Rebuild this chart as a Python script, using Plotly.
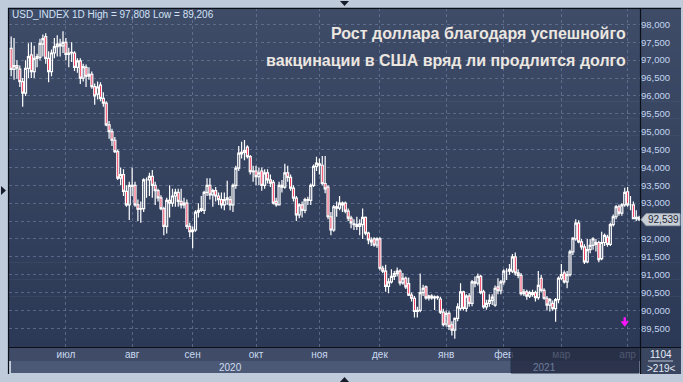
import plotly.graph_objects as go

# ---------------- data: USD_INDEX daily bars ----------------
bar_index = list(range(219))

opens = [
    97.33, 96.74, 96.85, 96.75, 96.40, 96.08, 96.77, 97.15, 96.68, 97.05,
    97.08, 97.45, 97.66, 97.05, 96.68, 97.20, 97.38, 97.45, 97.40, 97.50,
    97.16, 97.20, 97.20, 96.80, 96.98, 96.50, 96.80, 96.55, 96.60, 96.26,
    96.05, 96.30, 95.93, 95.80, 95.19, 95.00, 94.76, 94.44, 93.70, 93.80,
    93.33, 92.95, 93.50, 93.50, 92.95, 92.83, 92.85, 93.65, 93.65, 93.75,
    93.50, 93.35, 93.15, 92.85, 92.35, 93.08, 93.00, 93.20, 93.30, 93.05,
    92.95, 93.00, 92.35, 92.20, 92.25, 92.75, 92.80, 92.80, 93.30, 93.50,
    93.23, 93.35, 93.20, 93.10, 92.95, 93.10, 93.10, 92.95, 93.50, 93.98,
    94.38, 94.42, 94.57, 94.30, 93.88, 93.90, 93.74, 93.90, 93.50, 93.85,
    93.65, 93.58, 93.05, 92.95, 93.50, 93.45, 93.85, 93.72, 93.42, 93.14,
    92.67, 92.95, 92.80, 93.10, 93.08, 93.50, 94.03, 94.10, 94.06, 93.55,
    93.45, 92.62, 92.25, 92.90, 92.86, 93.00, 93.00, 92.78, 92.58, 92.42,
    92.40, 92.35, 92.40, 92.60, 92.16, 91.97, 92.00, 91.83, 92.00, 91.18,
    91.10, 90.67, 90.80, 90.95, 91.03, 91.10, 90.77, 90.90, 90.75, 90.43,
    90.34, 89.97, 90.00, 90.50, 90.66, 90.35, 90.40, 90.35, 90.38, 90.32,
    89.95, 89.62, 89.92, 89.60, 89.45, 89.78, 90.06, 90.52, 90.06, 90.40,
    90.20, 90.80, 90.76, 90.95, 90.52, 90.10, 90.20, 90.28, 90.15, 90.66,
    90.55, 90.80, 91.10, 91.10, 91.10, 91.50, 91.05, 90.98, 90.47, 90.52,
    90.40, 90.50, 90.50, 90.36, 90.90, 90.56, 90.34, 90.15, 90.20, 90.05,
    90.30, 90.90, 91.05, 90.80, 91.00, 91.64, 92.00, 92.44, 91.92, 91.78,
    91.36, 91.70, 91.82, 91.90, 91.90, 91.45, 91.90, 92.05, 91.85, 92.40,
    92.62, 92.90, 92.72, 92.95, 93.32, 92.95, 92.95, 92.57, 92.60,
]

highs = [
    97.66, 97.62, 97.00, 96.85, 96.50, 97.00, 97.47, 97.50, 97.40, 97.18,
    97.60, 97.72, 97.75, 97.25, 97.30, 97.62, 97.70, 97.60, 97.808, 97.62,
    97.35, 97.50, 97.25, 97.05, 97.05, 96.90, 96.88, 96.80, 96.68, 96.35,
    96.40, 96.38, 96.10, 95.85, 95.30, 95.08, 94.85, 94.50, 94.00, 93.95,
    93.50, 93.60, 94.00, 93.60, 93.10, 93.05, 93.70, 93.72, 93.85, 93.93,
    93.60, 93.40, 93.22, 92.90, 93.15, 93.50, 93.40, 93.40, 93.40, 93.40,
    93.15, 93.10, 92.45, 92.35, 92.80, 93.00, 93.20, 93.35, 93.70, 93.70,
    93.40, 93.45, 93.30, 93.30, 93.30, 93.63, 93.20, 93.55, 94.05, 94.60,
    94.72, 94.77, 94.62, 94.35, 94.05, 94.05, 94.00, 94.00, 93.95, 93.95,
    93.80, 93.65, 93.15, 93.60, 93.65, 94.10, 94.05, 93.80, 93.50, 93.20,
    93.00, 93.05, 93.15, 93.18, 93.55, 94.08, 94.30, 94.25, 94.32, 94.32,
    93.50, 92.75, 92.95, 93.05, 93.20, 93.05, 93.05, 92.85, 92.65, 92.55,
    92.62, 92.55, 92.85, 92.63, 92.20, 92.05, 92.05, 92.05, 92.05, 91.25,
    91.28, 90.90, 91.15, 91.10, 91.20, 91.15, 91.05, 90.95, 90.92, 90.50,
    90.40, 90.10, 91.03, 90.72, 90.70, 90.44, 90.45, 90.42, 90.42, 90.38,
    90.05, 90.00, 89.98, 89.70, 89.80, 90.20, 90.76, 90.55, 90.45, 90.48,
    90.85, 90.95, 91.03, 91.00, 90.58, 90.30, 90.45, 90.45, 90.70, 90.90,
    90.85, 91.15, 91.18, 91.30, 91.58, 91.62, 91.15, 91.05, 90.60, 90.58,
    90.55, 90.58, 90.55, 91.10, 91.00, 90.62, 90.40, 90.35, 90.28, 90.35,
    90.95, 91.30, 91.12, 91.10, 91.70, 92.05, 92.55, 92.52, 92.00, 91.85,
    92.00, 92.00, 92.05, 92.00, 91.95, 92.20, 92.15, 92.12, 92.45, 92.68,
    92.95, 92.96, 93.00, 93.43, 93.45, 93.20, 93.05, 92.80, 92.65,
]

lows = [
    96.55, 96.45, 96.48, 96.25, 95.70, 96.00, 96.50, 96.50, 96.50, 96.80,
    97.00, 97.10, 96.90, 96.38, 96.55, 97.05, 97.10, 97.10, 97.20, 97.00,
    96.80, 96.95, 96.70, 96.65, 96.33, 96.40, 96.25, 96.45, 96.20, 95.75,
    95.90, 95.85, 95.70, 95.15, 94.80, 94.60, 94.40, 93.65, 93.50, 93.20,
    92.90, 92.53, 93.20, 92.90, 92.50, 92.45, 92.75, 93.15, 93.20, 93.15,
    92.95, 93.05, 92.80, 92.10, 92.15, 92.60, 92.90, 92.90, 92.90, 92.85,
    92.85, 92.28, 92.05, 91.74, 92.20, 92.60, 92.75, 92.70, 93.20, 93.10,
    92.90, 93.05, 92.95, 92.85, 92.80, 92.95, 92.80, 92.75, 93.40, 93.90,
    94.25, 94.20, 94.25, 93.80, 93.60, 93.50, 93.50, 93.35, 93.40, 93.55,
    93.45, 92.96, 92.90, 92.95, 93.30, 93.40, 93.60, 93.35, 93.05, 92.50,
    92.58, 92.60, 92.72, 92.95, 92.95, 93.45, 93.90, 93.80, 93.50, 93.28,
    92.55, 92.10, 92.20, 92.62, 92.80, 92.75, 92.72, 92.50, 92.30, 92.25,
    92.25, 92.10, 92.00, 92.10, 91.85, 91.80, 91.78, 91.75, 91.12, 91.05,
    90.52, 90.48, 90.75, 90.85, 90.95, 90.70, 90.72, 90.60, 90.40, 90.25,
    89.80, 89.80, 89.95, 90.40, 90.30, 90.28, 90.30, 90.01, 90.30, 89.90,
    89.55, 89.55, 89.45, 89.30, 89.206, 89.70, 90.00, 90.00, 89.96, 90.10,
    90.12, 90.65, 90.70, 90.45, 90.05, 90.02, 90.10, 90.15, 90.10, 90.45,
    90.45, 90.72, 90.85, 91.00, 91.05, 90.98, 90.90, 90.42, 90.40, 90.30,
    90.35, 90.38, 90.25, 90.30, 90.50, 90.30, 90.00, 89.97, 89.99, 89.68,
    90.20, 90.85, 90.75, 90.62, 90.95, 91.55, 91.95, 91.88, 91.70, 91.30,
    91.32, 91.60, 91.70, 91.65, 91.35, 91.40, 91.80, 91.78, 91.80, 92.35,
    92.55, 92.65, 92.65, 92.90, 92.90, 92.80, 92.55, 92.50, 92.50,
]

closes = [
    96.74, 96.85, 96.78, 96.40, 96.08, 96.77, 97.10, 96.68, 97.05, 97.10,
    97.47, 97.60, 97.05, 96.68, 97.20, 97.38, 97.45, 97.40, 97.50, 97.16,
    97.20, 97.22, 96.80, 96.98, 96.50, 96.82, 96.55, 96.60, 96.26, 96.00,
    96.25, 95.93, 95.80, 95.19, 95.00, 94.76, 94.44, 93.70, 93.80, 93.33,
    92.95, 93.50, 93.47, 92.95, 92.83, 92.85, 93.65, 93.65, 93.75, 93.50,
    93.35, 93.15, 92.85, 92.35, 93.08, 93.00, 93.20, 93.30, 93.05, 92.95,
    93.00, 92.35, 92.20, 92.25, 92.75, 92.80, 92.85, 93.30, 93.50, 93.23,
    93.35, 93.20, 93.10, 92.95, 93.10, 93.15, 92.95, 93.50, 93.98, 94.40,
    94.42, 94.47, 94.30, 93.88, 93.90, 93.74, 93.85, 93.50, 93.85, 93.65,
    93.56, 93.00, 92.96, 93.50, 93.45, 93.85, 93.72, 93.42, 93.14, 92.67,
    92.95, 92.80, 93.10, 93.08, 93.50, 94.03, 94.12, 94.06, 93.55, 93.40,
    92.62, 92.25, 92.90, 92.86, 93.00, 92.95, 92.78, 92.58, 92.45, 92.40,
    92.35, 92.42, 92.60, 92.16, 91.97, 91.92, 91.83, 92.00, 91.18, 91.10,
    90.67, 90.80, 90.95, 91.03, 91.10, 90.77, 90.90, 90.66, 90.43, 90.34,
    89.97, 90.00, 90.50, 90.62, 90.35, 90.40, 90.35, 90.38, 90.36, 89.95,
    89.60, 89.92, 89.55, 89.45, 89.78, 90.10, 90.52, 90.06, 90.40, 90.20,
    90.80, 90.76, 90.95, 90.50, 90.10, 90.20, 90.28, 90.37, 90.62, 90.55,
    90.80, 91.10, 91.10, 91.15, 91.50, 91.05, 90.98, 90.47, 90.52, 90.40,
    90.50, 90.45, 90.36, 90.70, 90.56, 90.34, 90.15, 90.30, 90.05, 90.30,
    90.90, 91.00, 90.80, 91.00, 91.64, 92.02, 92.44, 91.92, 91.78, 91.36,
    91.70, 91.82, 92.00, 91.85, 91.42, 91.90, 92.10, 91.85, 92.40, 92.62,
    92.90, 92.72, 92.95, 93.30, 92.95, 92.95, 92.57, 92.60, 92.539,
]

# time axis: month labels at the first bar of each month
month_labels = ["июл", "авг", "сен", "окт", "ноя", "дек", "янв", "фев", "мар", "апр"]
month_first_bar = [19, 42, 63, 85, 107, 128, 151, 171, 191, 214]
year_labels = ["2020", "2021"]
year_label_bar = [76, 185]
year_2021_first_bar = 174

# price axis levels
price_levels = [89.5, 90.0, 90.5, 91.0, 91.5, 92.0, 92.5, 93.0, 93.5,
                94.0, 94.5, 95.0, 95.5, 96.0, 96.5, 97.0, 97.5, 98.0]

symbol = "USD_INDEX"
timeframe = "1D"
total_bars = 1104
visible_bars = len(bar_index)

# sell-signal arrow placed on the chart (tip position)
signal_bar = [213]
signal_price = [89.54]

title_lines = ["Рост доллара благодаря успешнойго",
               "вакцинации в США вряд ли продлится долго"]


def fmt(v):
    return f"{v:.3f}".replace(".", ",")


# ---------------- geometry (pixels) ----------------
W, H = 683, 382
PL, PR, PT, PB = 9, 640, 8, 347          # plot area edges
X_RANGE = [-0.75, 218.3]
Y_RANGE = [88.977, 98.459]
XU = (X_RANGE[1] - X_RANGE[0]) / (PR - PL)   # bar units per pixel
YU = (Y_RANGE[1] - Y_RANGE[0]) / (PB - PT)   # price units per pixel


def px(x):
    return (x - PL) / (PR - PL)


def py(y):
    return (PB - y) / (PB - PT)


FONT = "Liberation Sans, Arial, sans-serif"
shapes = []

# dark gradient behind chart and price column
n_bands = 40
top_c, bot_c = (62, 76, 104), (44, 57, 86)
for k in range(n_bands):
    t = (k + 0.5) / n_bands
    c = tuple(round(top_c[j] + (bot_c[j] - top_c[j]) * t) for j in range(3))
    y0 = PT + (PB - PT) * k / n_bands
    y1 = PT + (PB - PT) * (k + 1) / n_bands + 0.6
    shapes.append(dict(type="rect", xref="paper", yref="paper", layer="below",
                       x0=px(8), x1=px(681), y0=py(y1), y1=py(y0),
                       fillcolor="rgb(%d,%d,%d)" % c, line=dict(width=0)))

# time scale rows
shapes += [
    dict(type="rect", xref="paper", yref="paper", layer="below",
         x0=px(8), x1=px(640), y0=py(361), y1=py(347), fillcolor="#404c67", line=dict(width=0)),
    dict(type="rect", xref="paper", yref="paper", layer="below",
         x0=px(11), x1=px(639), y0=py(373), y1=py(361), fillcolor="#4b5976", line=dict(width=0)),
    dict(type="rect", xref="paper", yref="paper", layer="below",
         x0=px(641), x1=px(681), y0=py(374), y1=py(347), fillcolor="#3a4560", line=dict(width=0)),
]

# highlighted span of the latest year on the time scale
x2021 = 11.3 + 2.8805 * (year_2021_first_bar - 0.5)
shapes.append(dict(type="rect", xref="paper", yref="paper", layer="above",
                   x0=px(x2021), x1=px(639), y0=py(373), y1=py(348),
                   fillcolor="rgba(30,38,60,0.72)", line=dict(color="#26304a", width=1)))

# frame lines
for (x0, y0, x1, y1) in [(8.5, 8, 8.5, 374), (640.5, 8, 640.5, 374),
                         (8, 347.5, 681, 347.5), (8, 8.3, 681, 8.3)]:
    shapes.append(dict(type="line", xref="paper", yref="paper", layer="above",
                       x0=px(x0), x1=px(x1), y0=py(y0), y1=py(y1),
                       line=dict(color="#0b0f18", width=1.2)))
shapes.append(dict(type="line", xref="paper", yref="paper", layer="above",
                   x0=px(648), x1=px(673), y0=py(361), y1=py(361),
                   line=dict(color="#b8c4d6", width=1)))

# scroll markers on the window frame
shapes += [
    dict(type="path", xref="paper", yref="paper", layer="above",
         path=f"M{px(340)},{py(1)} L{px(349)},{py(1)} L{px(344.5)},{py(6)} Z",
         fillcolor="#161c2a", line=dict(width=0)),
    dict(type="path", xref="paper", yref="paper", layer="above",
         path=f"M{px(340)},{py(382)} L{px(349)},{py(382)} L{px(344.5)},{py(377)} Z",
         fillcolor="#161c2a", line=dict(width=0)),
    dict(type="path", xref="paper", yref="paper", layer="above",
         path=f"M{px(1)},{py(186)} L{px(6)},{py(190.5)} L{px(1)},{py(195)} Z",
         fillcolor="#161c2a", line=dict(width=0)),
]

# down arrow (stem + head) anchored at its tip
for b, p in zip(signal_bar, signal_price):
    pts = [(-1.2, 9.5), (1.2, 9.5), (1.2, 5.5), (4.2, 5.5), (0, 0), (-4.2, 5.5), (-1.2, 5.5)]
    path = "M" + " L".join(f"{b + dx * XU},{p + dy * YU}" for dx, dy in pts) + " Z"
    shapes.append(dict(type="path", xref="x", yref="y", layer="above", path=path,
                       fillcolor="#ff14ff", line=dict(width=0)))

# current price tag
last = closes[-1]
half = 6.0 * YU
shapes.append(dict(type="path", xref="paper", yref="y", layer="above",
                   path=(f"M{px(641)},{last} L{px(646)},{last + half} L{px(680)},{last + half} "
                         f"L{px(680)},{last - half} L{px(646)},{last - half} Z"),
                   fillcolor="#c9cfd6", line=dict(color="#9aa3ae", width=1)))

annotations = [
    dict(xref="paper", yref="paper", x=px(10), y=py(15), xanchor="left", yanchor="middle",
         showarrow=False, align="left",
         text=f"{symbol} {timeframe} High = {fmt(max(highs))} Low = {fmt(min(lows))}",
         font=dict(family=FONT, size=10, color="#d3e2f6")),
    dict(xref="paper", yref="y", x=px(663), y=last, xanchor="center", yanchor="middle",
         showarrow=False, text=fmt(last), font=dict(family=FONT, size=10, color="#1c2636")),
    dict(xref="paper", yref="paper", x=px(661), y=py(355), xanchor="center", yanchor="middle",
         showarrow=False, text=str(total_bars), font=dict(family=FONT, size=10, color="#e4ecf7")),
    dict(xref="paper", yref="paper", x=px(661), y=py(368), xanchor="center", yanchor="middle",
         showarrow=False, text=f"&gt;{visible_bars}&lt;", font=dict(family=FONT, size=10, color="#e4ecf7")),
]
for k, line in enumerate(title_lines):
    annotations.append(dict(xref="paper", yref="paper", x=px(628), y=py(33 + 28 * k),
                            xanchor="right", yanchor="middle", showarrow=False, text=f"<b>{line}</b>",
                            font=dict(family=FONT, size=16, color="#ece6e1")))
for lbl, b in zip(year_labels, year_label_bar):
    col = "#cfdcf0" if lbl == "2020" else "#6f7e9c"
    annotations.append(dict(xref="x", yref="paper", x=b, y=py(367), xanchor="center",
                            yanchor="middle", showarrow=False, text=lbl,
                            font=dict(family=FONT, size=10, color=col)))

fig = go.Figure(go.Candlestick(
    x=bar_index, open=opens, high=highs, low=lows, close=closes,
    increasing=dict(line=dict(color="#ffffff", width=1.2), fillcolor="rgba(0,0,0,0)"),
    decreasing=dict(line=dict(color="#ffffff", width=1.2), fillcolor="#f0103a"),
    whiskerwidth=0, hoverinfo="skip", showlegend=False,
))

grid = dict(showgrid=True, gridcolor="rgba(122,138,170,0.55)", gridwidth=1, griddash="3px,3px")

# the level hidden under the current price tag keeps its grid line but not its label
price_text = ["" if abs(v - last) < 0.2 else fmt(v) for v in price_levels]

fig.update_layout(
    width=W, height=H,
    margin=dict(l=PL, r=W - PR, t=PT, b=H - PB, pad=0),
    paper_bgcolor="#bfcbdb", plot_bgcolor="rgba(0,0,0,0)",
    boxgap=0.02,
    shapes=shapes, annotations=annotations,
    xaxis=dict(range=X_RANGE, tickvals=month_first_bar, ticktext=month_labels,
               tickfont=dict(family=FONT, size=10, color="#c9d9f1"), ticks="",
               rangeslider=dict(visible=False), zeroline=False, showline=False,
               fixedrange=True, **grid),
    yaxis=dict(range=Y_RANGE, side="right", tickvals=price_levels, ticktext=price_text,
               tickfont=dict(family=FONT, size=9.5, color="#c3d5f0"), ticks="",
               zeroline=False, showline=False, fixedrange=True, **grid),
    font=dict(family=FONT),
)

fig.write_html("out.html")
